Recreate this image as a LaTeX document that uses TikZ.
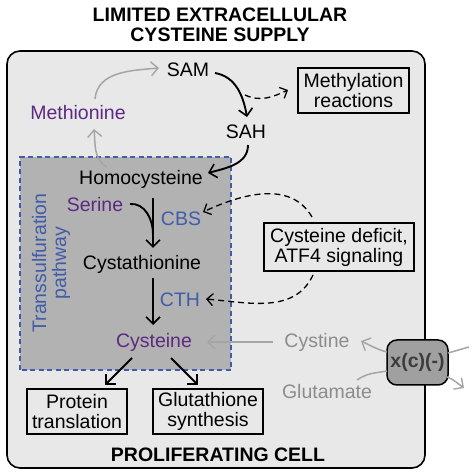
\documentclass[tikz,border=0pt]{standalone}
\usepackage{fontspec}
\setmainfont{Liberation Sans}
\usetikzlibrary{arrows.meta}
\definecolor{cellfill}{RGB}{232,232,232}
\definecolor{transfill}{RGB}{178,178,178}
\definecolor{xcfill}{RGB}{160,160,160}
\definecolor{purp}{RGB}{92,42,128}
\definecolor{blu}{RGB}{64,92,170}
\definecolor{gtext}{RGB}{140,140,140}
\definecolor{garrow}{RGB}{165,165,165}
\definecolor{xctext}{RGB}{60,60,60}
\tikzset{
  txt/.style={font=\fontsize{19.5}{20}\selectfont, inner sep=2pt, align=center},
  btxt/.style={font=\fontsize{19.5}{20}\selectfont\bfseries, inner sep=2pt, align=center},
  outbox/.style={txt, draw=black, line width=1.2pt, inner sep=0pt},
  arr/.style={line width=1.9pt, -{Straight Barb[length=7pt,width=14pt,line width=1.6pt]}},
  garr/.style={draw=garrow, line width=1.5pt, -{Straight Barb[length=7pt,width=14pt,line width=1.4pt]}},
  gline/.style={draw=garrow, line width=1.5pt},
  darr/.style={line width=1.3pt, dash pattern=on 6pt off 4pt, -{Straight Barb[length=6pt,width=12pt,line width=1.3pt,sep=0pt]}}
}
\begin{document}
\begin{tikzpicture}[x=1pt,y=1pt]
\useasboundingbox (0,0) rectangle (474,474);
% cell
\draw[fill=cellfill, line width=1.6pt, rounded corners=13pt] (7,6) rectangle (425,423);
% transsulfuration box
\draw[fill=transfill, draw=blu, line width=1.2pt, dash pattern=on 5pt off 3.5pt] (20,104) rectangle (231,317);
% titles
\node[btxt] (title) at (220,449) {LIMITED EXTRACELLULAR\\CYSTEINE SUPPLY};
\node[btxt] (cell) at (218,19) {PROLIFERATING CELL};
% metabolites
\node[txt] (sam) at (188,404) {SAM};
\node[txt] (sah) at (246,342) {SAH};
\node[txt, text=purp] (met) at (78,361) {Methionine};
\node[txt] (homo) at (141,295) {Homocysteine};
\node[txt, text=purp] (ser) at (95,269) {Serine};
\node[txt, text=blu] (cbs) at (181,255) {CBS};
\node[txt] (cysta) at (142,210) {Cystathionine};
\node[txt, text=blu] (cth) at (180,174) {CTH};
\node[txt, text=purp] (cys) at (154,132) {Cysteine};
\node[txt, text=gtext] (cyst) at (317,132) {Cystine};
\node[txt, text=gtext] (glu) at (327,82) {Glutamate};
\node[txt, text=blu, rotate=90] (trans) at (51,211) {Transsulfuration\\pathway};
% boxes
\node[outbox, minimum width=111pt, minimum height=45pt] (methyl) at (353.5,383.5) {Methylation\\reactions};
\node[outbox, minimum width=150pt, minimum height=48pt] (atf) at (339,227) {Cysteine deficit,\\ATF4 signaling};
\node[outbox, minimum width=100pt, minimum height=45pt] (prot) at (77,62.5) {Protein\\translation};
\node[outbox, minimum width=110pt, minimum height=45pt] (glut) at (208,62.5) {Glutathione\\synthesis};
\node[btxt, text=xctext, draw=black, fill=xcfill, line width=1.5pt, rounded corners=10pt, minimum width=61pt, minimum height=45pt, inner sep=0pt] (xc) at (417.5,111.5) {x(c)(-)};
% coordinates
\coordinate (mstart) at (107,307);
\coordinate (dstart) at (245,379);
\coordinate (mtip) at (288,384);
\coordinate (vtop) at (153,276);
\coordinate (vbot) at (153,226);
\coordinate (join) at (153,240);
\coordinate (v2top) at (153,196);
\coordinate (v2bot) at (153,149);
\coordinate (a1) at (312,257);
\coordinate (a2) at (313,199);
\coordinate (rtop) at (469,127);
\coordinate (rbot) at (464,86);
% methionine cycle
\draw[garr] (95,375) to[out=85,in=185] (159,406);
\draw[garr] (mstart) to[out=150,in=-85] (94,345);
\draw[arr] (215,401) to[out=-10,in=100] (247,357);
\draw[darr] (dstart) to[out=-25,in=205] (mtip);
\draw[arr] (248,329) to[out=-90,in=15] (208,301);
% transsulfuration
\draw[arr] (vtop) -- (vbot);
\draw[line width=1.9pt] (130,270) to[out=5,in=90] (join);
\draw[arr] (v2top) -- (v2bot);
\draw[darr] (a1) to[out=120,in=25] (203,262);
\draw[darr] (a2) to[out=-115,in=-5] (206,175);
% cysteine uptake and use
\draw[garr] (273,132) -- (207,132);
\draw[arr] (132,116) -- (105,89);
\draw[arr] (171,116) -- (198,89);
% transporter
\draw[garr] (387,122) to[out=165,in=-25] (361,133);
\draw[gline] (357,94) to[out=35,in=190] (387,103);
\draw[gline] (448,121) to[out=15,in=195] (rtop);
\draw[garr] (447,97) to[out=-20,in=145] (rbot);
\end{tikzpicture}
\end{document}
